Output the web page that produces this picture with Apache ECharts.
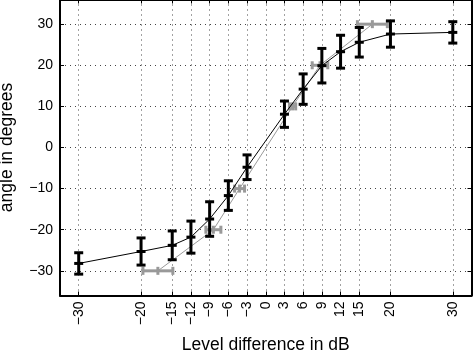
<!DOCTYPE html>
<html>
<head>
<meta charset="utf-8">
<script src="https://cdn.jsdelivr.net/npm/echarts@6/dist/echarts.min.js"></script>
<style>
  html, body { margin: 0; padding: 0; background: #fff; }
  #chart { width: 474px; height: 353px; }
</style>
</head>
<body>
<div id="chart"></div>
<script>
// level differences (dB) where the black points were measured
const blackX = [-30, -20, -15, -12, -9, -6, -3, 3, 6, 9, 12, 15, 20, 30];
const blackY = [-28.2, -25.3, -23.8, -21.8, -17.4, -11.7, -4.8, 8.1, 14.2, 19.9, 23.3, 25.6, 27.6, 28.0];
const blackErr = [2.6, 3.3, 3.5, 3.9, 4.2, 3.6, 3.0, 3.2, 3.7, 4.2, 4.0, 3.6, 3.2, 2.6];

// grey points: angle fixed, spread along the level axis
const grayX = [-17.3, -8.4, -4.2, 4.3, 8.7, 17.1];
const grayY = [-30, -20, -10, 10, 20, 30];
const grayErr = [2.4, 1.2, 0.8, 0.5, 1.25, 2.4];

const xTicks = [-30, -20, -15, -12, -9, -6, -3, 0, 3, 6, 9, 12, 15, 20, 30];
const yTicks = [-30, -20, -10, 0, 10, 20, 30];

const FONT = 'Liberation Sans';
const minus = v => String(v).replace('-', '\u2212');

const grid = { type: [1, 4], color: '#444', width: 1 };

function blackBar(params, api) {
  const x = api.value(0), y = api.value(1), e = api.value(2);
  const lo = api.coord([x, y - e]);
  const hi = api.coord([x, y + e]);
  const c = api.coord([x, y]);
  const w = 4.5;
  const st = { stroke: '#000', lineWidth: 3 };
  return {
    type: 'group',
    children: [
      { type: 'line', shape: { x1: lo[0], y1: lo[1], x2: hi[0], y2: hi[1] }, style: st },
      { type: 'line', shape: { x1: lo[0] - w, y1: lo[1], x2: lo[0] + w, y2: lo[1] }, style: st },
      { type: 'line', shape: { x1: hi[0] - w, y1: hi[1], x2: hi[0] + w, y2: hi[1] }, style: st },
      { type: 'line', shape: { x1: c[0] - w, y1: c[1], x2: c[0] + w, y2: c[1] }, style: st }
    ]
  };
}

function grayBar(params, api) {
  const x = api.value(0), y = api.value(1), e = api.value(2);
  const lo = api.coord([x - e, y]);
  const hi = api.coord([x + e, y]);
  const c = api.coord([x, y]);
  const h = 4;
  const st = { stroke: '#999', lineWidth: 3 };
  return {
    type: 'group',
    children: [
      { type: 'line', shape: { x1: lo[0], y1: lo[1], x2: hi[0], y2: hi[1] }, style: st },
      { type: 'line', shape: { x1: lo[0], y1: lo[1] - h, x2: lo[0], y2: lo[1] + h }, style: st },
      { type: 'line', shape: { x1: hi[0], y1: hi[1] - h, x2: hi[0], y2: hi[1] + h }, style: st },
      { type: 'line', shape: { x1: c[0], y1: c[1] - h, x2: c[0], y2: c[1] + h }, style: st }
    ]
  };
}

const chart = echarts.init(document.getElementById('chart'), null, { renderer: 'canvas' });

chart.setOption({
  animation: false,
  backgroundColor: '#fff',
  textStyle: { fontFamily: FONT },
  grid: { left: 60, right: 2.5, top: -0.5, bottom: 57.5, containLabel: false, outerBoundsMode: 'none' },
  xAxis: [{
    type: 'value', min: -33, max: 33,
    name: 'Level difference in dB', nameLocation: 'middle', nameGap: 41,
    nameTextStyle: { fontSize: 17.5, color: '#000', fontFamily: FONT },
    axisLine: { show: true, onZero: false, lineStyle: { color: '#000', width: 2 } },
    axisTick: { show: true, inside: true, length: 4, customValues: xTicks, lineStyle: { color: '#000' } },
    axisLabel: { show: true, customValues: xTicks, rotate: 90, margin: 6, fontSize: 14, color: '#000', fontFamily: FONT, formatter: minus },
    splitLine: { show: true, lineStyle: grid }
  }, {
    type: 'value', min: -33, max: 33, position: 'top',
    axisLine: { show: true, onZero: false, lineStyle: { color: '#000', width: 2 } },
    axisTick: { show: true, inside: true, length: 4, customValues: xTicks, lineStyle: { color: '#000' } },
    axisLabel: { show: false },
    splitLine: { show: false }
  }],
  yAxis: [{
    type: 'value', min: -36, max: 36,
    name: 'angle in degrees', nameLocation: 'middle', nameGap: 44,
    nameTextStyle: { fontSize: 17.5, color: '#000', fontFamily: FONT },
    axisLine: { show: true, onZero: false, lineStyle: { color: '#000', width: 2 } },
    axisTick: { show: true, inside: true, length: 4, customValues: yTicks, lineStyle: { color: '#000' } },
    axisLabel: { show: true, customValues: yTicks, margin: 7, fontSize: 14, color: '#000', fontFamily: FONT, formatter: minus },
    splitLine: { show: true, lineStyle: grid }
  }, {
    type: 'value', min: -36, max: 36, position: 'right',
    axisLine: { show: true, onZero: false, lineStyle: { color: '#000', width: 2 } },
    axisTick: { show: true, inside: true, length: 4, customValues: yTicks, lineStyle: { color: '#000' } },
    axisLabel: { show: false },
    splitLine: { show: false }
  }],
  series: [{
    type: 'line', z: 2,
    data: grayX.map((x, i) => [x, grayY[i]]),
    symbol: 'none',
    lineStyle: { color: '#999', width: 1 }
  }, {
    type: 'custom', z: 3,
    renderItem: grayBar,
    data: grayX.map((x, i) => [x, grayY[i], grayErr[i]])
  }, {
    type: 'line', z: 4,
    data: blackX.map((x, i) => [x, blackY[i]]),
    symbol: 'none',
    lineStyle: { color: '#000', width: 1 }
  }, {
    type: 'custom', z: 5,
    renderItem: blackBar,
    data: blackX.map((x, i) => [x, blackY[i], blackErr[i]])
  }]
});
</script>
</body>
</html>
